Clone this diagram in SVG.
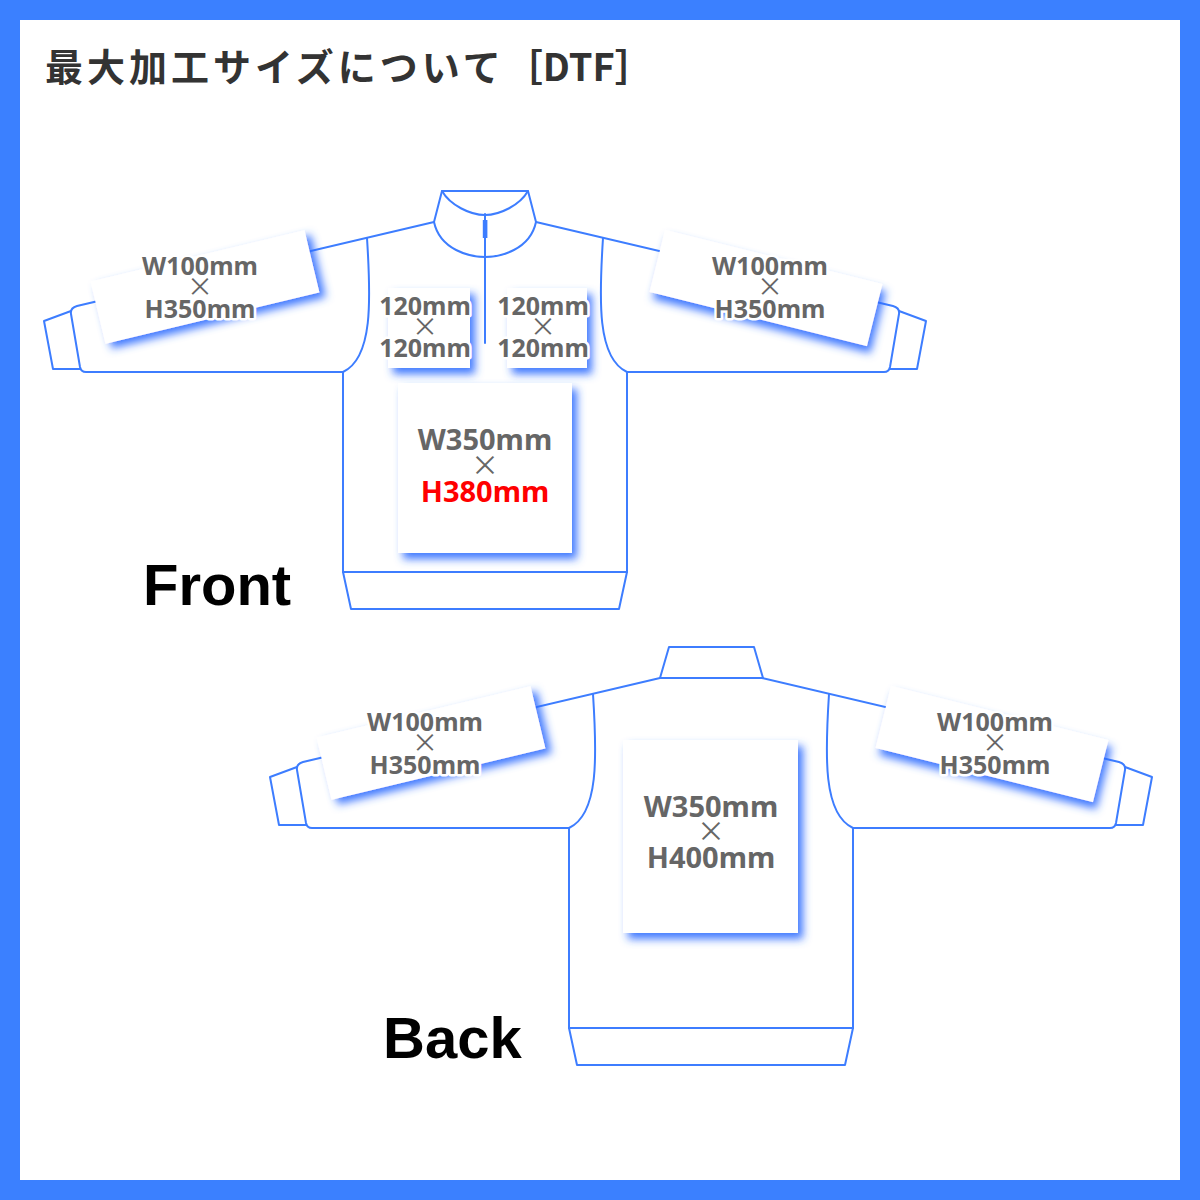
<svg xmlns="http://www.w3.org/2000/svg" width="1200" height="1200" viewBox="0 0 1200 1200">
<defs>
<style>
.ln{fill:none;stroke:#3d7dff;stroke-width:2;stroke-linejoin:round;stroke-linecap:round}
.box{fill:#ffffff;filter:url(#sh)}
.lb{font-family:"Noto Sans","Noto Sans CJK JP",sans-serif;font-weight:700;fill:#666666;text-anchor:middle;stroke:#ffffff;stroke-width:5;stroke-linejoin:round;paint-order:stroke}
.x{font-family:"Noto Sans CJK JP","Noto Sans",sans-serif;font-weight:400;fill:#666666;text-anchor:middle}
.s25{font-size:25px}
.s29{font-size:29px}
.red{fill:#ff0000}
.big{font-family:"Liberation Sans",Arial,sans-serif;font-weight:700;font-size:58px;fill:#000000}
</style>
<filter id="sh" x="-20%" y="-20%" width="150%" height="150%">
<feDropShadow dx="5" dy="6" stdDeviation="4" flood-color="#2f6cff" flood-opacity="0.9"/>
</filter>
<g id="outline">
<path class="ln" d="M434,222 L77,306 Q70,308 71,314 L80,367 Q81,372 86,372 L343,372"/>
<path class="ln" d="M71,311 L44,321 L53,369 L80,369"/>
<path class="ln" d="M367,238 C371,300 373,358 343,372"/>
<path class="ln" d="M343,372 L343,572"/>
<path class="ln" d="M536,222 L893,306 Q900,308 899,314 L890,367 Q889,372 884,372 L627,372"/>
<path class="ln" d="M899,311 L926,321 L917,369 L890,369"/>
<path class="ln" d="M603,238 C599,300 597,358 627,372"/>
<path class="ln" d="M627,372 L627,572"/>
<path class="ln" d="M343,572 L627,572 M343,572 L351,609 L619,609 L627,572"/>
</g>
</defs>
<rect x="0" y="0" width="1200" height="1200" fill="#3b80ff"/>
<rect x="20" y="20" width="1160" height="1160" fill="#ffffff"/>
<text id="title" x="45" y="81" font-family="Noto Sans CJK JP,sans-serif" font-size="38" font-weight="700" fill="#333333"><tspan letter-spacing="4">最大加工サイズについて</tspan><tspan letter-spacing="0">［DTF］</tspan></text>

<g id="front-garment">
<use href="#outline"/>
<path class="ln" d="M442,191 L528,191 M442,191 L434,222 M528,191 L536,222"/>
<path class="ln" d="M442,191 C450,205 470,215 485,215 C500,215 520,205 528,191"/>
<path class="ln" d="M434,222 C440,250 470,257 485,257 C500,257 530,250 536,222"/>
<path class="ln" d="M485,214 L485,343"/>
<rect x="482.8" y="220" width="4.6" height="18" fill="#3d7dff"/>
</g>

<g id="back-garment">
<use href="#outline" transform="translate(226,456)"/>
<path class="ln" d="M669,647 L754,647 L763,678 L660,678 Z"/>
</g>

<g id="front-left-sleeve">
<rect class="box" x="-110" y="-32" width="220" height="64" transform="translate(205,287) rotate(-13.5)"/>
<text class="lb s25" x="200" y="275">W100mm</text>
<text class="x" x="200" y="296" font-size="26">×</text>
<text class="lb s25" x="200" y="318">H350mm</text>
</g>
<g id="front-right-sleeve">
<rect class="box" x="-112" y="-32" width="224" height="64" transform="translate(766,288) rotate(14)"/>
<text class="lb s25" x="770" y="275">W100mm</text>
<text class="x" x="770" y="296" font-size="26">×</text>
<text class="lb s25" x="770" y="318">H350mm</text>
</g>
<g id="front-left-chest">
<rect class="box" x="388" y="288" width="82" height="80"/>
<text class="lb s25" x="425" y="315">120mm</text>
<text class="x" x="425" y="336" font-size="26">×</text>
<text class="lb s25" x="425" y="357">120mm</text>
</g>
<g id="front-right-chest">
<rect class="box" x="507" y="288" width="80" height="80"/>
<text class="lb s25" x="543" y="315">120mm</text>
<text class="x" x="543" y="336" font-size="26">×</text>
<text class="lb s25" x="543" y="357">120mm</text>
</g>
<g id="front-body">
<rect class="box" x="398" y="383" width="174" height="170"/>
<text class="lb s29" x="485" y="450">W350mm</text>
<text class="x" x="485" y="476" font-size="28">×</text>
<text class="lb s29 red" x="485" y="502">H380mm</text>
</g>
<text id="front-label" class="big" x="143" y="605">Front</text>

<g id="back-left-sleeve">
<rect class="box" x="-110" y="-32" width="220" height="64" transform="translate(431,743) rotate(-13.5)"/>
<text class="lb s25" x="425" y="731">W100mm</text>
<text class="x" x="425" y="752" font-size="26">×</text>
<text class="lb s25" x="425" y="774">H350mm</text>
</g>
<g id="back-right-sleeve">
<rect class="box" x="-112" y="-32" width="224" height="64" transform="translate(992,744) rotate(14)"/>
<text class="lb s25" x="995" y="731">W100mm</text>
<text class="x" x="995" y="752" font-size="26">×</text>
<text class="lb s25" x="995" y="774">H350mm</text>
</g>
<g id="back-body">
<rect class="box" x="623" y="740" width="175" height="193"/>
<text class="lb s29" x="711" y="817">W350mm</text>
<text class="x" x="711" y="842" font-size="28">×</text>
<text class="lb s29" x="711" y="868">H400mm</text>
</g>
<text id="back-label" class="big" x="383" y="1058">Back</text>
</svg>
